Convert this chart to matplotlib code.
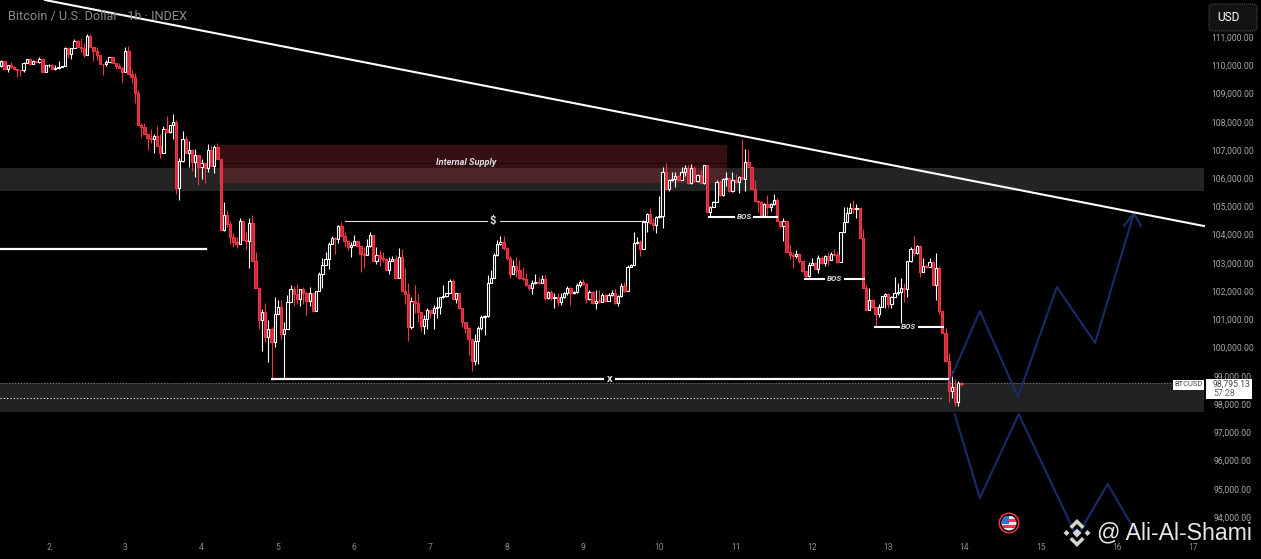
import numpy as np
import matplotlib
matplotlib.use('Agg')
import matplotlib.pyplot as plt
from matplotlib.patches import Rectangle, Circle, Polygon, FancyBboxPatch

plt.rcParams['font.family'] = ['Roboto', 'DejaVu Sans']

# hourly BTCUSD candles, first one at day 1 09:00
first_day = 1.375
first_open = 110020
closes = [
    110186, 109914, 110044, 109973, 109914, 109867, 109855, 110103, 110256, 110091, 110174, 110138, 110245, 109808, 110032, 110044,
    109902, 109950, 109973, 109997, 110634, 110445, 110634, 110882, 110693, 110658, 110410, 111071, 110693, 110528, 110398, 110091,
    110080, 110150, 110315, 110127, 110009, 109950, 109808, 110528, 109737, 109619, 109041, 107932, 107861, 107590, 107448, 107436,
    107531, 107177, 106917, 107767, 107684, 107908, 108014, 105702, 106634, 107413, 106917, 107023, 106622, 106846, 106445, 106563,
    106410, 107023, 106480, 107141, 106716,
    104202, 104733, 104414, 103954, 103777, 103706, 104520, 103848, 103812, 104450, 103104, 102148, 101015, 101298, 100413, 100696,
    100236, 101227, 101475, 100519, 100696, 101652, 102113, 101935, 101758, 102113, 101971, 101688, 101971, 101333, 102042, 102644,
    102962, 103175, 103706, 103918, 103883, 104343, 103989, 103812, 103600, 103670, 103812, 103635, 103352, 103316, 103635, 104025,
    103104, 103316, 103210, 103175, 102785, 103104, 103175, 102502, 103246, 102042, 101935, 100767, 101688, 101617, 101298, 100802,
    101050, 101369, 101263, 101440, 101475, 101829, 101865, 101971, 102396, 101758, 101971, 101440, 100944, 100731, 100342, 99563,
    100270, 100731, 101121, 101156, 102325, 102502, 103316, 103706, 103777, 103564, 103210, 102644, 102927, 102785, 102502, 102467,
    102254, 102148, 102325, 102360, 102325, 102467, 101794, 102006, 101794, 101829, 101652, 101829, 101971, 102148, 101971, 102006,
    102254, 102360, 102290, 101758, 102006, 101617, 101688, 101652, 101900, 101688, 101900, 101971, 101617, 101865, 102219, 102042,
    102892, 102962, 103741, 103777, 103529, 104485, 104768, 104450, 104379, 104662, 104697, 106255, 105653, 105972, 106007, 106114,
    105972, 106255, 106397, 105866, 106397, 105937, 106149, 105866, 106503, 104839, 105016, 105193, 105901, 105441, 106007, 106043,
    105583, 105972, 105901, 106078, 106007, 106610, 106432, 105653, 105229, 105193, 104697, 105122, 105016, 105122, 105264, 104520,
    104343, 104520, 103423, 103316, 103281, 103352, 103104, 102750, 102573, 102962, 103033, 102821, 103210, 103033, 103281, 103139,
    103352, 103316, 103069, 104131, 104485, 104804, 104981, 104945, 104981, 103918, 102148, 101369, 101723, 101475, 101227, 101475,
    101865, 101935, 101581, 101829, 101971, 102006, 102148, 102113, 103104, 103529, 103387, 103635, 102715, 102927, 102892, 103069,
    102254, 102856, 101333, 100554, 99563, 98500, 98642, 98111, 98784, 98750,
]
highs = [
    110221, 110174, 110044, 110138, 109997, 109914, 109879, 110138, 110256, 110280, 110209, 110150, 110315, 110245, 110032, 110080,
    110068, 110032, 110186, 110009, 110693, 110634, 110634, 110953, 110929, 111000, 110811, 111141, 111141, 110693, 110693, 110398,
    110091, 110221, 110315, 110280, 110127, 110115, 109961, 110681, 110717, 109867, 109773, 109159, 108002, 107979, 107590, 107767,
    107601, 107885, 107601, 107885, 108239, 107908, 108309, 108097, 106740, 107708, 107531, 107365, 107023, 107070, 106846, 106716,
    106575, 107247, 107212, 107212, 107271,
    106716, 105193, 104910, 104520, 104095, 103954, 104627, 104556, 104131, 104627, 104733, 103423, 102183, 101404, 101617, 101015,
    100767, 101829, 101723, 101723, 100944, 101900, 102254, 102219, 102290, 102113, 102183, 102006, 102183, 101971, 102042, 102715,
    103210, 103423, 103777, 103989, 103954, 104379, 104485, 104131, 103812, 103777, 104025, 103812, 103635, 103600, 103883, 104131,
    104025, 103600, 103493, 103423, 103210, 103246, 103281, 103316, 103564, 103529, 102856, 102325, 101829, 102254, 101935, 101298,
    101192, 101440, 101369, 101546, 101829, 101829, 102254, 101971, 102467, 102467, 101971, 101971, 101440, 100944, 100767, 100342,
    100519, 100802, 101192, 101192, 102608, 102785, 103387, 103848, 103989, 103989, 103564, 103281, 103139, 103246, 103139, 102892,
    102679, 102290, 102431, 102644, 102538, 102608, 102608, 102042, 102077, 101971, 101971, 101971, 102006, 102219, 102183, 102042,
    102325, 102431, 102467, 102325, 102077, 102042, 102077, 102077, 101971, 101935, 101971, 102077, 102113, 101900, 102325, 102360,
    102962, 102998, 104131, 103954, 103848, 104556, 104804, 104981, 104627, 104697, 105406, 106432, 106574, 106007, 106255, 106255,
    106149, 106432, 106503, 106503, 106539, 106468, 106185, 106326, 106503, 106503, 105052, 105229, 105972, 105972, 106043, 106255,
    106043, 106255, 106185, 106114, 107424, 107070, 107034, 106432, 105972, 105264, 105229, 105158, 105441, 105158, 105476, 105335,
    104520, 104627, 104520, 103670, 103423, 103493, 103387, 103069, 102750, 103069, 103210, 103069, 103316, 103281, 103316, 103423,
    103423, 103529, 103423, 104131, 105016, 105016, 105158, 105264, 105122, 104981, 104237, 102254, 102148, 101758, 101475, 101581,
    101865, 101971, 101971, 101865, 102538, 102325, 102502, 102325, 103104, 103600, 103989, 103670, 103670, 103210, 102998, 103210,
    103104, 103387, 102927, 101369, 100731, 99847, 99209, 98925, 98855, 98819,
]
lows = [
    109985, 109914, 109808, 109938, 109914, 109631, 109666, 109808, 110103, 110056, 110080, 110127, 110127, 109808, 109808, 109985,
    109891, 109879, 109891, 109973, 109997, 110292, 110268, 110634, 110693, 110492, 110327, 110410, 110693, 110197, 110221, 110091,
    109702, 110009, 110150, 110127, 109891, 109950, 109442, 109808, 109737, 109395, 108711, 107932, 107495, 107590, 107035, 107295,
    106941, 107177, 106764, 106917, 107684, 107625, 107413, 105477, 105265, 106622, 106917, 106445, 106303, 106091, 105796, 106008,
    105879, 106268, 106480, 106233, 106716,
    104202, 104166, 104308, 103706, 103600, 103564, 103741, 103848, 103529, 102856, 103104, 102148, 100696, 99917, 100236, 99527,
    98890, 100059, 101227, 100342, 98961, 100696, 101652, 101511, 101581, 101511, 101581, 101192, 101511, 101298, 101333, 102042,
    102148, 102962, 102821, 103706, 103352, 103741, 103989, 103600, 103493, 103246, 103670, 103635, 102715, 102856, 103316, 103600,
    103069, 102998, 102927, 103069, 102785, 102644, 103104, 102502, 102502, 102042, 101581, 100270, 100696, 101263, 100944, 100625,
    100519, 100696, 101086, 100696, 101086, 101227, 101794, 101829, 101971, 101758, 101617, 101404, 100767, 100554, 99776, 99209,
    99421, 99457, 100661, 100483, 101121, 102325, 102502, 103281, 103670, 103493, 103139, 102502, 102644, 102538, 102467, 102431,
    102219, 102077, 101935, 102290, 102290, 102325, 101723, 101758, 101723, 101440, 101511, 101546, 101794, 101900, 101546, 101935,
    101971, 102183, 102254, 101617, 101723, 101581, 101404, 101617, 101688, 101652, 101688, 101865, 101581, 101511, 101829, 102006,
    102042, 102892, 102962, 103706, 103281, 103529, 104131, 104414, 104202, 104095, 104627, 104273, 105653, 105583, 105937, 105724,
    105937, 106043, 106114, 105831, 105831, 105901, 105901, 105831, 105831, 104839, 104697, 105016, 105193, 105406, 105406, 105760,
    105547, 105547, 105866, 105512, 106007, 105583, 106432, 105653, 105229, 104839, 104697, 104697, 104733, 104875, 105087, 104520,
    104273, 103812, 103423, 103175, 102856, 103210, 103033, 102715, 102467, 102538, 102962, 102821, 102679, 102998, 102927, 102962,
    103139, 103281, 103033, 103069, 104131, 104485, 104804, 104804, 104627, 103918, 102148, 101369, 101369, 101440, 100767, 101121,
    101475, 101440, 101440, 101440, 101829, 101900, 100908, 101652, 101829, 103069, 103281, 103352, 102538, 102715, 102856, 102892,
    102254, 101723, 101227, 100554, 99563, 98111, 98252, 97970, 97970, 98678,
]

price_ticks = list(range(94000, 112000, 1000))
day_ticks = list(range(2, 18))

# forecast paths
up_days = [13.81, 14.20, 14.70, 15.21, 15.71, 16.22]
up_prices = [98890, 101333, 98288, 102183, 100200, 104804]
head_days = [16.09, 16.22, 16.31]
head_prices = [104343, 104804, 104343]
down_days = [13.87, 14.20, 14.71, 15.47, 15.875, 16.25]
down_prices = [97686, 94712, 97686, 93331, 95208, 93472]

# day/price limits of the pane
x_min, x_max = 1.358, 17.885
y_min, y_max = 92551, 112346

fig = plt.figure(figsize=(12.61, 5.59), dpi=100, facecolor='black')
ax = fig.add_axes([0, 0, 1, 1], facecolor='black')
ax.set_xlim(x_min, x_max)
ax.set_ylim(y_min, y_max)
ax.axis('off')

band_end = 17.137
ax.fill_between([x_min, band_end], 105583, 106397, color='#242424', lw=0, zorder=1)
ax.fill_between([x_min, band_end], 97757, 98784, color='#222222', lw=0, zorder=1)

# internal supply box
ax.add_patch(Rectangle((4.23, 105866), 6.65, 1346, facecolor=(150/255, 42/255, 55/255), alpha=0.36, lw=0, zorder=2))
ax.plot([4.23, 10.88], [106574, 106574], color='#1c0508', lw=0.8, zorder=2)

closes = np.array(closes, dtype=float)
highs = np.array(highs, dtype=float)
lows = np.array(lows, dtype=float)
opens = np.r_[first_open, closes[:-1]]
times = first_day + np.arange(len(closes)) / 24
up = closes >= opens

ax.vlines(times[up], lows[up], highs[up], color='white', lw=0.8, zorder=3)
ax.vlines(times[~up], lows[~up], highs[~up], color='#f23645', lw=0.8, zorder=3)
ax.bar(times[up], (closes - opens)[up], bottom=opens[up], width=0.03, facecolor='black',
       edgecolor='white', lw=0.8, zorder=4)
ax.bar(times[~up], (opens - closes)[~up], bottom=closes[~up], width=0.03, facecolor='#c92a3c',
       edgecolor='#f23645', lw=0.8, zorder=4)

# trend line and levels
ax.plot([1.948, 17.137], [112346, 104343], color='white', lw=1.5, zorder=6)
ax.plot([x_min, 4.06], [103529, 103529], color='white', lw=1.6, zorder=5)
ax.plot([5.88, 7.74], [104520, 104520], color='#dddddd', lw=0.8, zorder=5)
ax.plot([7.91, 9.81], [104520, 104520], color='#dddddd', lw=0.8, zorder=5)
ax.plot([4.92, 9.26], [98925, 98925], color='white', lw=1.6, zorder=5)
ax.plot([9.43, 13.81], [98925, 98925], color='white', lw=1.6, zorder=5)
for d0, d1, d2, d3, p in [(10.65, 10.98, 11.24, 11.54, 104662),
                          (11.91, 12.16, 12.43, 12.68, 102467),
                          (12.83, 13.14, 13.40, 13.72, 100767)]:
    ax.plot([d0, d1], [p, p], color='white', lw=1.5, zorder=5)
    ax.plot([d2, d3], [p, p], color='white', lw=1.5, zorder=5)
    ax.text((d1 + d2) / 2, p, 'BOS', color='#dddddd', fontsize=5.8, fontweight='bold', style='italic',
            ha='center', va='center', zorder=7)
ax.text(7.82, 104520, '$', color='#e0e0e0', fontsize=8, fontweight='bold', ha='center', va='center', zorder=7)
ax.text(9.35, 98925, 'x', color='#e0e0e0', fontsize=8, fontweight='bold', ha='center', va='center', zorder=7)
ax.text(7.465, 106574, 'Internal Supply', color='#e0e0e0', fontsize=6.6, fontweight='bold', style='italic',
        ha='center', va='center', zorder=7)

ax.plot([x_min, 13.72], [98252, 98252], color='white', lw=0.8, ls=(0, (1, 2)), zorder=5)
ax.plot([x_min, band_end], [98784, 98784], color='#8a8a8a', lw=0.7, ls=(0, (1, 2)), zorder=5)

navy = '#1a2b66'
ax.plot(up_days, up_prices, color=navy, lw=1.5, zorder=5)
ax.plot(head_days, head_prices, color=navy, lw=1.5, zorder=5)
ax.plot(down_days, down_prices, color=navy, lw=1.5, zorder=5)

# axis labels
for p in price_ticks:
    ax.text(1233 / 1261, p, f'{p:,.2f}', color='#a8a8a8', fontsize=6.2, ha='center', va='center', zorder=7,
            transform=ax.get_yaxis_transform())
for d in day_ticks:
    ax.text(d, 1 - 548 / 559, str(d), color='#8a8a8a', fontsize=6.2, ha='center', va='center', zorder=7,
            transform=ax.get_xaxis_transform())

# pane decorations, in screen pixels
ui = fig.add_axes([0, 0, 1, 1], facecolor='none')
ui.set_xlim(0, 1261)
ui.set_ylim(559, 0)
ui.axis('off')

ui.text(8, 16.5, 'Bitcoin / U.S. Dollar · 1h · INDEX', color='#8c8c8c', fontsize=9.2, ha='left', va='center')
ui.add_patch(FancyBboxPatch((1209, 4), 48, 27, boxstyle='round,pad=0,rounding_size=4', facecolor='#121212',
                            edgecolor='#5a5a5a', lw=0.7, ls=(0, (1, 1))))
ui.text(1228.5, 17.5, 'USD', color='white', fontsize=8.6, ha='center', va='center')

ui.add_patch(Rectangle((1173, 380), 31, 10, facecolor='white', lw=0))
ui.text(1188.5, 385, 'BTCUSD', color='#444444', fontsize=5.4, ha='center', va='center')
ui.add_patch(Rectangle((1206, 379), 46, 20, facecolor='white', lw=0))
ui.text(1213, 384, '98,795.13', color='#444444', fontsize=6.2, ha='left', va='center')
ui.text(1213, 393, '57:28', color='#666666', fontsize=6.2, ha='left', va='center')

# flag badge
ui.add_patch(Circle((1009, 523), 10.5, facecolor='#f23645', lw=0))
ui.add_patch(Circle((1009, 523), 9, facecolor='black', lw=0))
clip = Circle((1009, 523), 7.5, transform=ui.transData)
for k, c in enumerate(['#e8e8e8', '#f23645', '#e8e8e8', '#f23645', '#e8e8e8']):
    r = Rectangle((1001, 515.5 + k * 3), 16, 3, facecolor=c, lw=0)
    ui.add_patch(r)
    r.set_clip_path(clip)
r = Rectangle((1001, 515.5), 8, 8, facecolor='#2f6fd6', lw=0)
ui.add_patch(r)
r.set_clip_path(clip)

# watermark
mark = '#d4d4d4'
cx, cy = 1077, 533
ui.add_patch(Polygon([(cx, cy - 4.5), (cx + 4.5, cy), (cx, cy + 4.5), (cx - 4.5, cy)], facecolor=mark, lw=0))
ui.add_patch(Polygon([(cx - 13.5, cy), (cx - 10.5, cy - 3), (cx - 7.5, cy), (cx - 10.5, cy + 3)], facecolor=mark, lw=0))
ui.add_patch(Polygon([(cx + 13.5, cy), (cx + 10.5, cy - 3), (cx + 7.5, cy), (cx + 10.5, cy + 3)], facecolor=mark, lw=0))
for s in (-1, 1):
    ui.add_patch(Polygon([(cx, cy + s * 14), (cx + 7.5, cy + s * 6.5), (cx + 5, cy + s * 4), (cx, cy + s * 9),
                          (cx - 5, cy + s * 4), (cx - 7.5, cy + s * 6.5)], facecolor=mark, lw=0))
ui.text(1097, 533, '@ Ali-Al-Shami', color='#e6e6e6', fontsize=16.7, family='Liberation Sans', ha='left', va='center')

fig.savefig('out.png', dpi=100, facecolor='black')
